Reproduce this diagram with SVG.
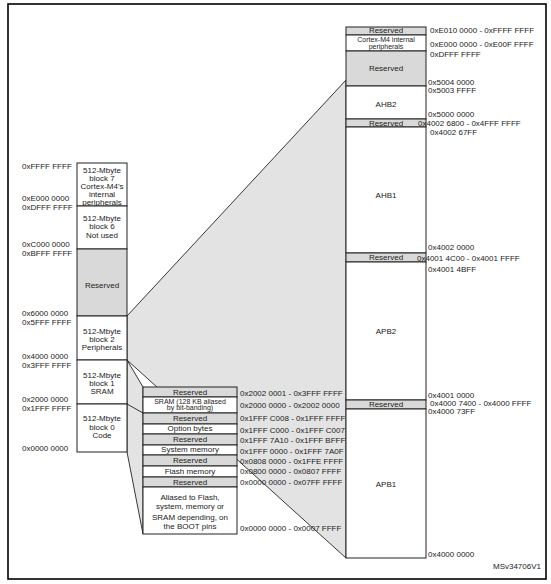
<svg xmlns="http://www.w3.org/2000/svg" width="551" height="584" viewBox="0 0 551 584">
<style>
text{font-family:"Liberation Sans",Arial,sans-serif;font-size:8px;fill:#222}
.c{text-anchor:middle}
.s{font-size:7px}
.w{fill:#fff;stroke:#222;stroke-width:1}
.g{fill:#d9d9d9;stroke:#222;stroke-width:1}
.conn{fill:#e3e3e3;stroke:#222;stroke-width:0.9}
.ln{fill:none;stroke:#222;stroke-width:0.9}
</style>
<rect x="0" y="0" width="551" height="584" fill="#fff"/>
<rect x="8" y="4" width="538" height="575" fill="none" stroke="#000" stroke-width="1.6"/>
<g id="connectors">
<polygon class="conn" points="127,316 346,80 346,558 127,360"/>
<polygon class="conn" points="127,360 143,387 143,534 127,452"/>
<line class="ln" x1="127" y1="404" x2="143" y2="413"/>
</g>
<g id="left-block7"><rect class="w" x="77" y="163" width="50" height="43"/>
<text class="c" x="102" y="173">512-Mbyte</text><text class="c" x="102" y="181">block 7</text><text class="c" x="102" y="189">Cortex-M4's</text><text class="c" x="102" y="197">internal</text><text class="c" x="102" y="205">peripherals</text></g>
<g id="left-block6"><rect class="w" x="77" y="206" width="50" height="43"/>
<text class="c" x="102" y="221">512-Mbyte</text><text class="c" x="102" y="229">block 6</text><text class="c" x="102" y="238">Not used</text></g>
<g id="left-reserved"><rect class="g" x="77" y="249" width="50" height="67"/>
<text class="c" x="102" y="288">Reserved</text></g>
<g id="left-block2"><rect class="w" x="77" y="316" width="50" height="44"/>
<text class="c" x="102" y="334">512-Mbyte</text><text class="c" x="102" y="342">block 2</text><text class="c" x="102" y="350">Peripherals</text></g>
<g id="left-block1"><rect class="w" x="77" y="360" width="50" height="44"/>
<text class="c" x="102" y="378">512-Mbyte</text><text class="c" x="102" y="386">block 1</text><text class="c" x="102" y="394">SRAM</text></g>
<g id="left-block0"><rect class="w" x="77" y="404" width="50" height="48"/>
<text class="c" x="102" y="421">512-Mbyte</text><text class="c" x="102" y="430">block 0</text><text class="c" x="102" y="438">Code</text></g>
<g id="left-addresses">
<text x="22" y="169">0xFFFF FFFF</text>
<text x="22" y="201">0xE000 0000</text><text x="22" y="210">0xDFFF FFFF</text>
<text x="22" y="247">0xC000 0000</text><text x="22" y="256">0xBFFF FFFF</text>
<text x="22" y="316">0x6000 0000</text><text x="22" y="325">0x5FFF FFFF</text>
<text x="22" y="359">0x4000 0000</text><text x="22" y="368">0x3FFF FFFF</text>
<text x="22" y="402">0x2000 0000</text><text x="22" y="411">0x1FFF FFFF</text>
<text x="22" y="451">0x0000 0000</text>
</g>
<g id="mid-column">
<rect class="g" x="143" y="387" width="94" height="10"/><text class="c" x="190" y="395">Reserved</text>
<rect class="w" x="143" y="397" width="94" height="16"/><text class="c s" x="190" y="403.5">SRAM (128 KB aliased</text><text class="c s" x="190" y="410">by bit-banding)</text>
<rect class="g" x="143" y="413" width="94" height="11"/><text class="c" x="190" y="421">Reserved</text>
<rect class="w" x="143" y="424" width="94" height="10"/><text class="c" x="190" y="431">Option bytes</text>
<rect class="g" x="143" y="434" width="94" height="11"/><text class="c" x="190" y="442">Reserved</text>
<rect class="w" x="143" y="445" width="94" height="10"/><text class="c" x="190" y="452">System memory</text>
<rect class="g" x="143" y="455" width="94" height="11"/><text class="c" x="190" y="463">Reserved</text>
<rect class="w" x="143" y="466" width="94" height="11"/><text class="c" x="190" y="474">Flash memory</text>
<rect class="g" x="143" y="477" width="94" height="10"/><text class="c" x="190" y="485">Reserved</text>
<rect class="w" x="143" y="487" width="94" height="47"/>
<text class="c" x="190" y="500">Aliased to Flash,</text><text class="c" x="190" y="509">system, memory or</text><text class="c" x="190" y="520">SRAM depending, on</text><text class="c" x="190" y="529">the BOOT pins</text>
</g>
<g id="mid-addresses">
<text x="240" y="396">0x2002 0001 - 0x3FFF FFFF</text>
<text x="240" y="408">0x2000 0000 - 0x2002 0000</text>
<text x="240" y="421">0x1FFF C008 - 0x1FFF FFFF</text>
<text x="240" y="433">0x1FFF C000 - 0x1FFF C007</text>
<text x="240" y="443">0x1FFF 7A10 - 0x1FFF BFFF</text>
<text x="240" y="454">0x1FFF 0000 - 0x1FFF 7A0F</text>
<text x="240" y="464">0x0808 0000 - 0x1FFE FFFF</text>
<text x="240" y="474">0x0800 0000 - 0x0807 FFFF</text>
<text x="240" y="485">0x0000 0000 - 0x07FF FFFF</text>
<text x="240" y="531">0x0000 0000 - 0x0007 FFFF</text>
</g>
<g id="right-column">
<rect class="g" x="346" y="27" width="80" height="8"/><text class="c" x="386" y="33">Reserved</text>
<rect class="w" x="346" y="35" width="80" height="16"/><text class="c s" x="386" y="42">Cortex-M4 internal</text><text class="c s" x="386" y="48.5">peripherals</text>
<rect class="g" x="346" y="51" width="80" height="35"/><text class="c" x="386" y="71">Reserved</text>
<rect class="w" x="346" y="86" width="80" height="33"/><text class="c" x="386" y="107">AHB2</text>
<rect class="g" x="346" y="119" width="80" height="8"/><text class="c" x="386" y="126">Reserved</text>
<rect class="w" x="346" y="127" width="80" height="126"/><text class="c" x="386" y="198">AHB1</text>
<rect class="g" x="346" y="253" width="80" height="9"/><text class="c" x="386" y="260">Reserved</text>
<rect class="w" x="346" y="262" width="80" height="138"/><text class="c" x="386" y="334">APB2</text>
<rect class="g" x="346" y="400" width="80" height="9"/><text class="c" x="386" y="407">Reserved</text>
<rect class="w" x="346" y="409" width="80" height="149"/><text class="c" x="386" y="487">APB1</text>
</g>
<g id="right-addresses">
<text x="430" y="33">0xE010 0000 - 0xFFFF FFFF</text>
<text x="430" y="47">0xE000 0000 - 0xE00F FFFF</text>
<text x="430" y="57">0xDFFF FFFF</text>
<text x="428" y="85">0x5004 0000</text>
<text x="428" y="93">0x5003 FFFF</text>
<text x="428" y="117">0x5000 0000</text>
<text x="418" y="126">0x4002 6800 - 0x4FFF FFFF</text>
<text x="430" y="135">0x4002 67FF</text>
<text x="428" y="250">0x4002 0000</text>
<text x="417" y="261">0x4001 4C00 - 0x4001 FFFF</text>
<text x="428" y="272">0x4001 4BFF</text>
<text x="428" y="398">0x4001 0000</text>
<text x="430" y="406">0x4000 7400 - 0x4000 FFFF</text>
<text x="428" y="414">0x4000 73FF</text>
<text x="428" y="557">0x4000 0000</text>
<text x="541" y="569" text-anchor="end">MSv34706V1</text>
</g>
</svg>
